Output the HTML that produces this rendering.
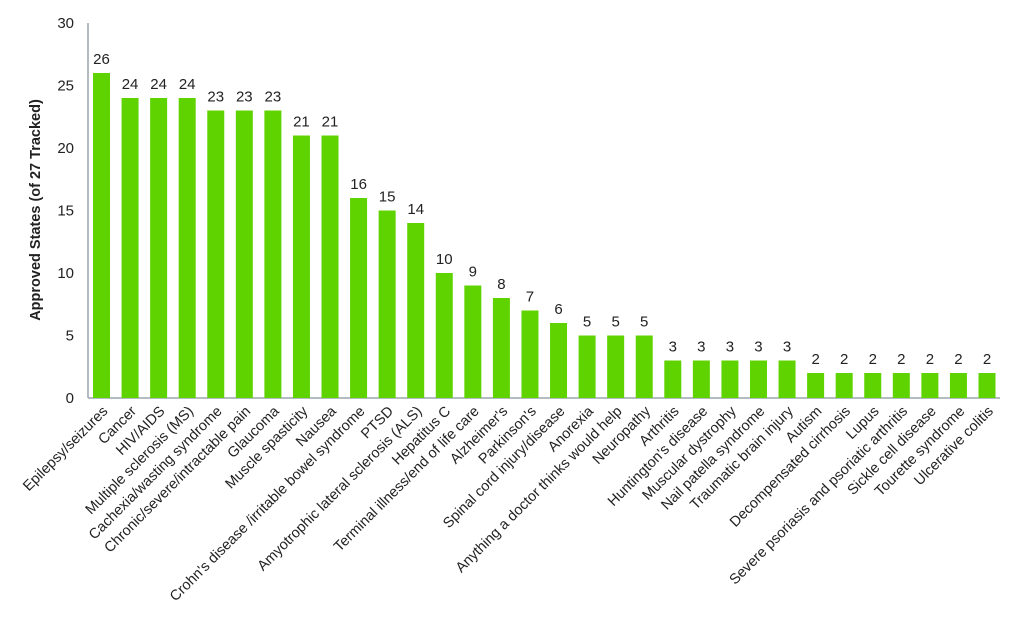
<!DOCTYPE html>
<html><head><meta charset="utf-8"><style>
body{margin:0;background:#fff}
svg{display:block}
text{font-family:"Liberation Sans",sans-serif;fill:#222}
</style></head><body>
<svg width="1024" height="625" xmlns="http://www.w3.org/2000/svg">
<g id="c"></g>
</svg>
<script>
const d=[["Epilepsy/seizures",26],["Cancer",24],["HIV/AIDS",24],["Multiple sclerosis (MS)",24],["Cachexia/wasting syndrome",23],["Chronic/severe/intractable pain",23],["Glaucoma",23],["Muscle spasticity",21],["Nausea",21],["Crohn's disease /irritable bowel syndrome",16],["PTSD",15],["Amyotrophic lateral sclerosis (ALS)",14],["Hepatitus C",10],["Terminal illness/end of life care",9],["Alzheimer's",8],["Parkinson's",7],["Spinal cord injury/disease",6],["Anorexia",5],["Anything a doctor thinks would help",5],["Neuropathy",5],["Arthritis",3],["Huntington's disease",3],["Muscular dystrophy",3],["Nail patella syndrome",3],["Traumatic brain injury",3],["Autism",2],["Decompensated cirrhosis",2],["Lupus",2],["Severe psoriasis and psoriatic arthritis",2],["Sickle cell disease",2],["Tourette syndrome",2],["Ulcerative colitis",2]];
const x0=101.5, dx=(987-101.5)/31, base=398, s=12.5;
let h='';
h+='<line x1="88" y1="23" x2="88" y2="398" stroke="#9aa5ad" stroke-width="1.5"/>';
h+='<line x1="88" y1="398" x2="1000" y2="398" stroke="#9aa5ad" stroke-width="1.5"/>';
for(let v=0;v<=30;v+=5){h+=`<text x="74" y="${base-v*s+5}" font-size="15" text-anchor="end">${v}</text>`;}
h+=`<text transform="translate(40,210) rotate(-90)" font-size="14.5" font-weight="bold" text-anchor="middle">Approved States (of 27 Tracked)</text>`;
d.forEach((e,i)=>{const cx=x0+i*dx,top=base-e[1]*s;
h+=`<rect x="${cx-8.5}" y="${top}" width="17" height="${base-top}" fill="#5fd300"/>`;
h+=`<text x="${cx}" y="${top-9}" font-size="15" text-anchor="middle">${e[1]}</text>`;
h+=`<text transform="translate(${cx+7},${base+14}) rotate(-45)" font-size="14.5" text-anchor="end">${e[0]}</text>`;});
document.getElementById('c').innerHTML=h;
</script>
</body></html>
